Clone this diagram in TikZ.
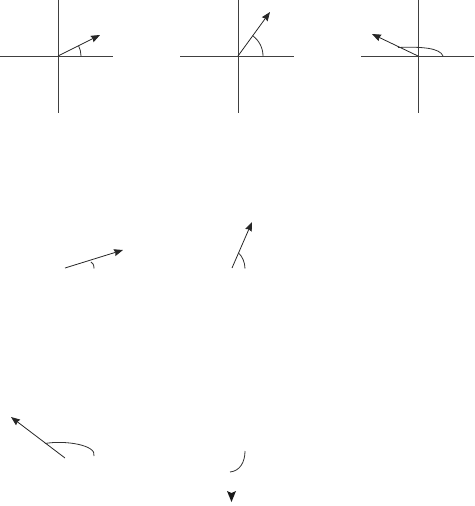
\documentclass[tikz,border=0pt]{standalone}
\usetikzlibrary{arrows.meta}
\begin{document}
\begin{tikzpicture}[x=1pt,y=-1pt,
  axis/.style={draw=black!75,line width=0.9pt},
  vec/.style={draw=black!85,line width=0.8pt,-{Stealth[length=9pt,width=7pt,inset=1pt]}},
  angarc/.style={draw=black!80,line width=0.8pt}]
\useasboundingbox (0,0) rectangle (474,506);
% panel 1
\coordinate (o1) at (58,56);
\coordinate (t1) at (100,35);
\coordinate (l1) at (0,56); \coordinate (r1) at (113,56);
\coordinate (u1) at (58,0); \coordinate (d1) at (58,113);
\draw[axis] (l1) -- (r1);
\draw[axis] (u1) -- (d1);
\draw[vec] (o1) -- (t1);
\draw[angarc] (81,56) arc[start angle=0,end angle=-26.6,radius=23];
% panel 2
\coordinate (o2) at (238,56);
\coordinate (t2) at (270,12);
\coordinate (l2) at (180,56); \coordinate (r2) at (294,56);
\coordinate (u2) at (238,0); \coordinate (d2) at (238,113);
\draw[axis] (l2) -- (r2);
\draw[axis] (u2) -- (d2);
\draw[vec] (o2) -- (t2);
\draw[angarc] (263,56) arc[start angle=0,end angle=-54,radius=25];
% panel 3
\coordinate (o3) at (418,56);
\coordinate (t3) at (372,34);
\coordinate (l3) at (361,56); \coordinate (r3) at (474,56);
\coordinate (u3) at (418,0); \coordinate (d3) at (418,113);
\draw[axis] (l3) -- (r3);
\draw[axis] (u3) -- (d3);
\draw[vec] (o3) -- (t3);
\draw[angarc] (443,56) .. controls (440,48) and (422,46.5) .. (398,47.5);
% panel 4
\coordinate (s4) at (65,268);
\coordinate (t4) at (123,250);
\draw[vec] (s4) -- (t4);
\draw[angarc] (91,262) .. controls (93,263) and (94,265) .. (94,268.5);
% panel 5
\coordinate (s5) at (232,268);
\coordinate (t5) at (252,222);
\draw[vec] (s5) -- (t5);
\draw[angarc] (238.5,253) .. controls (242,256) and (245,262) .. (245,268.5);
% panel 6
\coordinate (s6) at (65,458);
\coordinate (t6) at (11,417);
\draw[vec] (s6) -- (t6);
\draw[angarc] (45,443.5) .. controls (65,440) and (97,445) .. (94,456);
% panel 7
\draw[angarc] (230,472) .. controls (240,471) and (245,462) .. (245,451);
\coordinate (h7) at (231.5,502);
\fill[black!90] (h7) -- (227,491) -- (231.5,493) -- (236,491) -- cycle;
\end{tikzpicture}
\end{document}
